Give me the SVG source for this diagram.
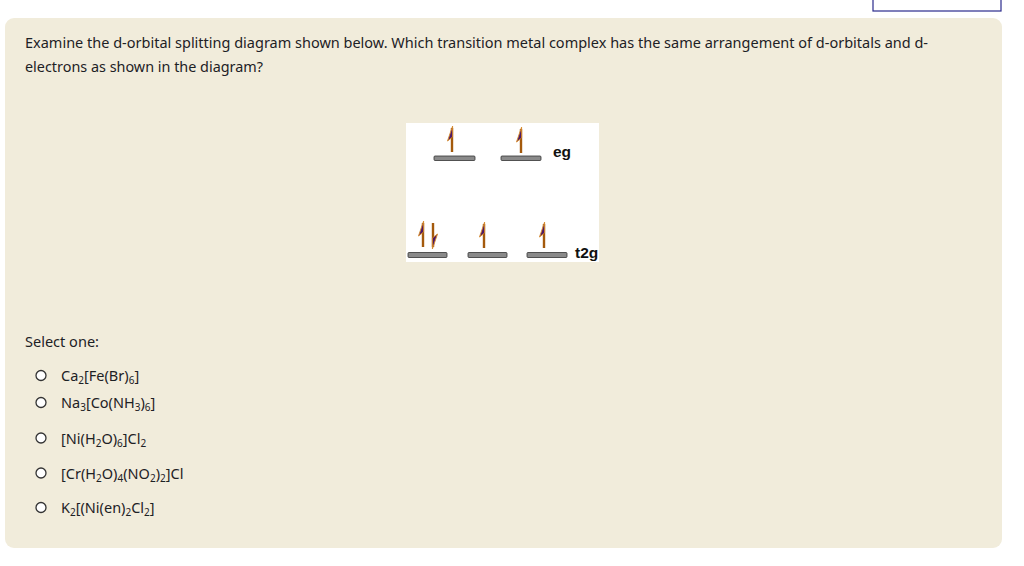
<svg xmlns="http://www.w3.org/2000/svg" width="1024" height="566" viewBox="0 0 1024 566">
<style>
.t{font-family:"Noto Sans","Open Sans","Liberation Sans",sans-serif;font-size:15px;fill:#1d2125}
.o{font-size:14.5px}
.sub{font-size:10px}
.lbl{font-family:"Liberation Sans",Arial,sans-serif;font-weight:bold;font-size:15.5px;fill:#111}
.bar{fill:#8a8a8a;stroke:#333;stroke-width:0.8}
.radio{fill:#fff;stroke:#333;stroke-width:1.3}
</style>
<defs>
<g id="up">
<line x1="0" y1="2" x2="0" y2="26" stroke="#a45a0c" stroke-width="2.4"/>
<polygon points="0.6,0 -4.5,15 0.6,11" fill="#4e1a66" stroke="#d98c2a" stroke-width="0.9"/>
</g>
<g id="down">
<line x1="0" y1="0" x2="0" y2="24" stroke="#a45a0c" stroke-width="2.4"/>
<polygon points="-0.6,26 4.5,11 -0.6,15" fill="#4e1a66" stroke="#d98c2a" stroke-width="0.9"/>
</g>
</defs>
<rect width="1024" height="566" fill="#fff"/>
<g id="timer">
<rect x="873" y="-10" width="128" height="21" fill="#fff" stroke="#2b2b8c" stroke-width="1.2"/>
</g>
<g id="panel">
<rect x="5" y="18" width="997" height="530" rx="9" fill="#f1ecdb"/>
</g>
<g id="question">
<text class="t" x="25" y="48" textLength="903" lengthAdjust="spacingAndGlyphs">Examine the d-orbital splitting diagram shown below. Which transition metal complex has the same arrangement of d-orbitals and d-</text>
<text class="t" x="25" y="72" textLength="238" lengthAdjust="spacingAndGlyphs">electrons as shown in the diagram?</text>
</g>
<g id="diagram">
<rect x="406" y="123" width="193" height="139" fill="#fff"/>
<g id="eg">
<rect class="bar" x="434" y="156" width="41" height="4.5" rx="1"/>
<rect class="bar" x="501" y="156" width="40" height="4.5" rx="1"/>
<use href="#up" x="452" y="126"/>
<use href="#up" x="521" y="127"/>
<text class="lbl" x="553" y="157">eg</text>
</g>
<g id="t2g">
<rect class="bar" x="408" y="252.5" width="39" height="5" rx="1"/>
<rect class="bar" x="468" y="252.5" width="39" height="5" rx="1"/>
<rect class="bar" x="527" y="252.5" width="40" height="5" rx="1"/>
<use href="#up" x="423" y="221"/>
<use href="#down" x="433" y="223"/>
<use href="#up" x="484" y="222"/>
<use href="#up" x="544" y="222"/>
<text class="lbl" x="575" y="258">t2g</text>
</g>
</g>
<g id="select">
<text class="t" x="25" y="347" textLength="74" lengthAdjust="spacingAndGlyphs">Select one:</text>
</g>
<g id="opt1">
<circle class="radio" cx="41" cy="375.5" r="5"/>
<text class="t o" x="61" y="381">Ca<tspan class="sub" dy="3">2</tspan><tspan dy="-3">[Fe(Br)</tspan><tspan class="sub" dy="3">6</tspan><tspan dy="-3">]</tspan></text>
</g>
<g id="opt2">
<circle class="radio" cx="41" cy="402.5" r="5"/>
<text class="t o" x="61" y="408">Na<tspan class="sub" dy="3">3</tspan><tspan dy="-3">[Co(NH</tspan><tspan class="sub" dy="3">3</tspan><tspan dy="-3">)</tspan><tspan class="sub" dy="3">6</tspan><tspan dy="-3">]</tspan></text>
</g>
<g id="opt3">
<circle class="radio" cx="41" cy="438" r="5"/>
<text class="t o" x="61" y="444">[Ni(H<tspan class="sub" dy="3">2</tspan><tspan dy="-3">O)</tspan><tspan class="sub" dy="3">6</tspan><tspan dy="-3">]Cl</tspan><tspan class="sub" dy="3">2</tspan></text>
</g>
<g id="opt4">
<circle class="radio" cx="41" cy="473" r="5"/>
<text class="t o" x="61" y="479">[Cr(H<tspan class="sub" dy="3">2</tspan><tspan dy="-3">O)</tspan><tspan class="sub" dy="3">4</tspan><tspan dy="-3">(NO</tspan><tspan class="sub" dy="3">2</tspan><tspan dy="-3">)</tspan><tspan class="sub" dy="3">2</tspan><tspan dy="-3">]Cl</tspan></text>
</g>
<g id="opt5">
<circle class="radio" cx="41" cy="507.5" r="5"/>
<text class="t o" x="61" y="513">K<tspan class="sub" dy="3">2</tspan><tspan dy="-3">[(Ni(en)</tspan><tspan class="sub" dy="3">2</tspan><tspan dy="-3">Cl</tspan><tspan class="sub" dy="3">2</tspan><tspan dy="-3">]</tspan></text>
</g>
<g id="connectors"></g>
</svg>
